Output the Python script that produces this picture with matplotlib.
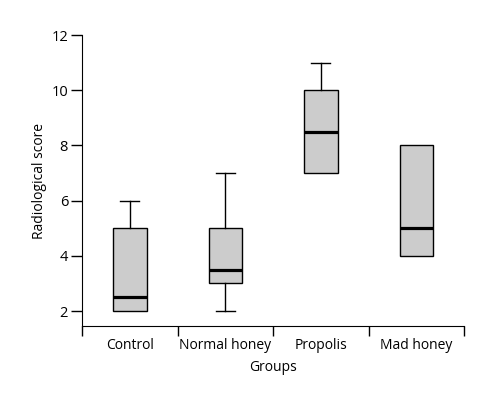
import matplotlib.pyplot as plt

plt.rcParams['font.family'] = ['Open Sans', 'DejaVu Sans']

groups = ['Control', 'Normal honey', 'Propolis', 'Mad honey']
whislo = [2, 2, 7, 4]
q1 = [2, 3, 7, 4]
med = [2.5, 3.5, 8.5, 5]
q3 = [5, 5, 10, 8]
whishi = [6, 7, 11, 8]

stats = []
for i, g in enumerate(groups):
    stats.append(dict(label=g, whislo=whislo[i], q1=q1[i], med=med[i],
                      q3=q3[i], whishi=whishi[i], fliers=[]))

fig = plt.figure(figsize=(4.97, 3.99), dpi=100)
ax = fig.add_axes([0.165, 0.183, 0.769, 0.729])

pos = list(range(len(groups)))
bp = ax.bxp(stats, positions=pos, widths=0.35, capwidths=0.2, patch_artist=True,
            showfliers=False,
            boxprops=dict(facecolor='#cccccc', edgecolor='black', linewidth=1),
            medianprops=dict(color='black', linewidth=2.3, solid_capstyle='butt'),
            whiskerprops=dict(color='black', linewidth=1),
            capprops=dict(color='black', linewidth=1))

# no cap where the whisker has zero length
for i in range(len(groups)):
    if whislo[i] == q1[i]:
        bp['caps'][2 * i].set_visible(False)
    if whishi[i] == q3[i]:
        bp['caps'][2 * i + 1].set_visible(False)

ax.set_xlim(-0.5, len(groups) - 0.5)
ax.set_ylim(1.46, 12)
ax.set_yticks([2, 4, 6, 8, 10, 12])

# boundaries get the tick marks, centres get the labels
ax.set_xticks([p - 0.5 for p in pos] + [len(groups) - 0.5])
ax.set_xticklabels([])
ax.set_xticks(pos, minor=True)
ax.set_xticklabels(groups, minor=True, fontsize=10)
ax.tick_params(axis='x', which='major', length=7, width=1, direction='out')
ax.tick_params(axis='x', which='minor', length=0, pad=9)
ax.tick_params(axis='y', length=8, width=1, labelsize=10.5, pad=2)

ax.spines['top'].set_visible(False)
ax.spines['right'].set_visible(False)
ax.spines['left'].set_bounds(1.46, 12)

ax.set_xlabel('Groups', fontsize=10, labelpad=5)
ax.set_ylabel('Radiological score', fontsize=10, labelpad=3)

fig.savefig('out.png', dpi=100)
